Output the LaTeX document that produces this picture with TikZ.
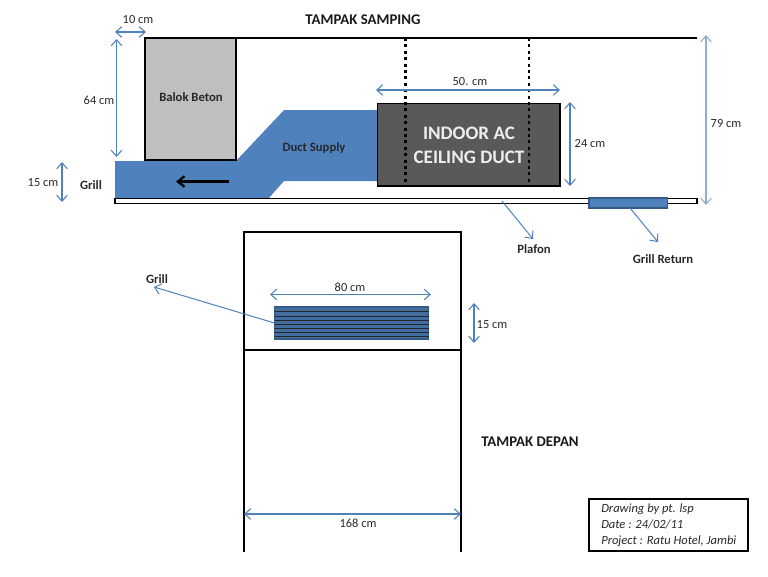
\documentclass[tikz,border=0pt]{standalone}
\usepackage{fontspec}
\setmainfont{Carlito}
\usetikzlibrary{arrows.meta}
\definecolor{ductblue}{RGB}{79,129,189}
\definecolor{dimblue}{RGB}{79,129,189}
\definecolor{beamgray}{RGB}{191,191,191}
\definecolor{acgray}{RGB}{89,89,89}
\definecolor{txt}{RGB}{40,40,40}
\tikzset{
  dimline/.style={draw=dimblue,line width=0.8pt,{Straight Barb[length=4.5pt,width=8pt]}-{Straight Barb[length=4.5pt,width=8pt]}},
  leader/.style={draw=dimblue,line width=0.75pt,-{Straight Barb[length=4.5pt,width=8pt]}},
  dimtext/.style={font=\fontsize{9.3}{11}\selectfont,text=txt,inner sep=0pt},
  boldtext/.style={font=\fontsize{9.5}{11}\selectfont\bfseries,text=txt,inner sep=0pt},
  titletext/.style={font=\fontsize{11.1}{13}\selectfont\bfseries,text=black!90,inner sep=0pt},
  solid box/.style={draw=black,inner sep=0pt,outer sep=0pt,line width=1.4pt},
  wall/.style={draw=black,line width=1.6pt},
  hanger/.style={draw=black,line width=2.2pt,dash pattern=on 2.2pt off 2.6pt},
}
\begin{document}
\begin{tikzpicture}[x=0.75pt,y=-0.75pt]
\useasboundingbox (0,0) rectangle (768,576);
% side view
\draw[wall,line width=1.4pt] (145,38) -- (697,38);
\fill[ductblue] (115,161) -- (236,161) -- (284,110) -- (377,110) -- (377,181) -- (284,181) -- (268,199) -- (115,199) -- cycle;
\node[solid box,fill=beamgray,minimum width=68.25pt,minimum height=91.5pt,anchor=north west] (beam) at (145,38) {};
\node[boldtext] (beamlabel) at (191,97) {Balok Beton};
\node[boldtext] (ductlabel) at (314,148) {Duct Supply};
\node[solid box,fill=white,line width=1.1pt,minimum width=436.5pt,minimum height=3.6pt,anchor=north west] (plafon) at (115,198.5) {};
\node[solid box,fill=acgray,minimum width=136.9pt,minimum height=62pt,anchor=north west] (ac) at (377.5,103.5) {};
\node[font=\fontsize{14.3}{18}\selectfont\bfseries,text=white!93!black,align=center,inner sep=0pt] (aclabel) at (469,145) {INDOOR AC\\CEILING DUCT};
\coordinate (h1t) at (405.5,38); \coordinate (h1b) at (405.5,186);
\coordinate (h2t) at (529,38);   \coordinate (h2b) at (529,186);
\draw[hanger] (h1t) -- (h1b);
\draw[hanger] (h2t) -- (h2b);
\node[solid box,fill=ductblue,draw=ductblue!70!black,line width=1pt,minimum width=59pt,minimum height=7.5pt,anchor=north west] (greturn) at (589,198) {};
% air arrow
\coordinate (af) at (229,181.5); \coordinate (at) at (176,181.5);
\draw[black,line width=1.7pt,-{Straight Barb[length=5pt,width=8pt]}] (af) -- (at);
% side dims
\coordinate (d10a) at (115,32); \coordinate (d10b) at (146,32);
\draw[dimline] (d10a) -- (d10b);
\node[dimtext] (t10) at (138,20) {10 cm};
\coordinate (d64a) at (116.5,39); \coordinate (d64b) at (116.5,157);
\draw[dimline] (d64a) -- (d64b);
\node[dimtext] (t64) at (99,100) {64 cm};
\coordinate (d15a) at (62,162); \coordinate (d15b) at (62,202);
\draw[dimline] (d15a) -- (d15b);
\node[dimtext] (t15) at (43,183) {15 cm};
\node[boldtext] (tgrill) at (91,185) {Grill};
\coordinate (d50a) at (376,90); \coordinate (d50b) at (560,90);
\draw[dimline] (d50a) -- (d50b);
\node[dimtext] (t50) at (470,82) {50. cm};
\coordinate (d24a) at (570,102); \coordinate (d24b) at (570,186);
\draw[dimline] (d24a) -- (d24b);
\node[dimtext] (t24) at (590,144) {24 cm};
\coordinate (d79a) at (706,35); \coordinate (d79b) at (706,205);
\draw[dimline,draw=dimblue!65!white] (d79a) -- (d79b);
\node[dimtext] (t79) at (726,124) {79 cm};
\coordinate (pf) at (502,201); \coordinate (pt) at (533,239);
\draw[leader] (pf) -- (pt);
\node[boldtext] (tplafon) at (534,249) {Plafon};
\coordinate (rf) at (630,208); \coordinate (rt) at (658,242);
\draw[leader] (rf) -- (rt);
\node[boldtext] (treturn) at (663,259) {Grill Return};
\node[titletext] (title1) at (363,20) {TAMPAK SAMPING};
% front view
\coordinate (fa) at (244,552); \coordinate (fb) at (244,232); \coordinate (fc) at (461,232); \coordinate (fd) at (461,552);
\draw[wall] (fa) -- (fb) -- (fc) -- (fd);
\coordinate (fl) at (244,350); \coordinate (fr) at (461,350);
\draw[wall] (fl) -- (fr);
\node[solid box,fill=ductblue!85!black,draw=ductblue!70!black,line width=0.8pt,minimum width=115.5pt,minimum height=24pt,anchor=north west] (fgrill) at (274.5,307) {};
\foreach \yy in {311.5,316,320,324,328,332,336}{\draw[black!85,line width=0.6pt] (274.5,\yy) -- (429,\yy);}
\coordinate (gt) at (154,287);
\draw[leader] (fgrill.west) -- (gt);
\node[boldtext] (tgrill2) at (157,279) {Grill};
\coordinate (d80a) at (270,294.5); \coordinate (d80b) at (431,294.5);
\draw[dimline] (d80a) -- (d80b);
\node[dimtext] (t80) at (350,287) {80 cm};
\coordinate (d15fa) at (474,303); \coordinate (d15fb) at (474,343);
\draw[dimline] (d15fa) -- (d15fb);
\node[dimtext] (t15f) at (492,325) {15 cm};
\coordinate (d168a) at (244,514); \coordinate (d168b) at (461,514);
\draw[dimline] (d168a) -- (d168b);
\node[dimtext] (t168) at (358,523) {168 cm};
\node[titletext] (title2) at (530,442) {TAMPAK DEPAN};
% title block
\node[solid box,draw=black,line width=1pt,fill=white,minimum width=119.25pt,minimum height=39pt,anchor=north west] (tblock) at (589,499) {};
\node[font=\fontsize{9.4}{12}\selectfont\itshape,text=txt,align=left,anchor=west,inner sep=0pt] (tblocktext) at (601,525) {Drawing by pt. lsp\\Date : 24/02/11\\Project : Ratu Hotel, Jambi};
\end{tikzpicture}
\end{document}
